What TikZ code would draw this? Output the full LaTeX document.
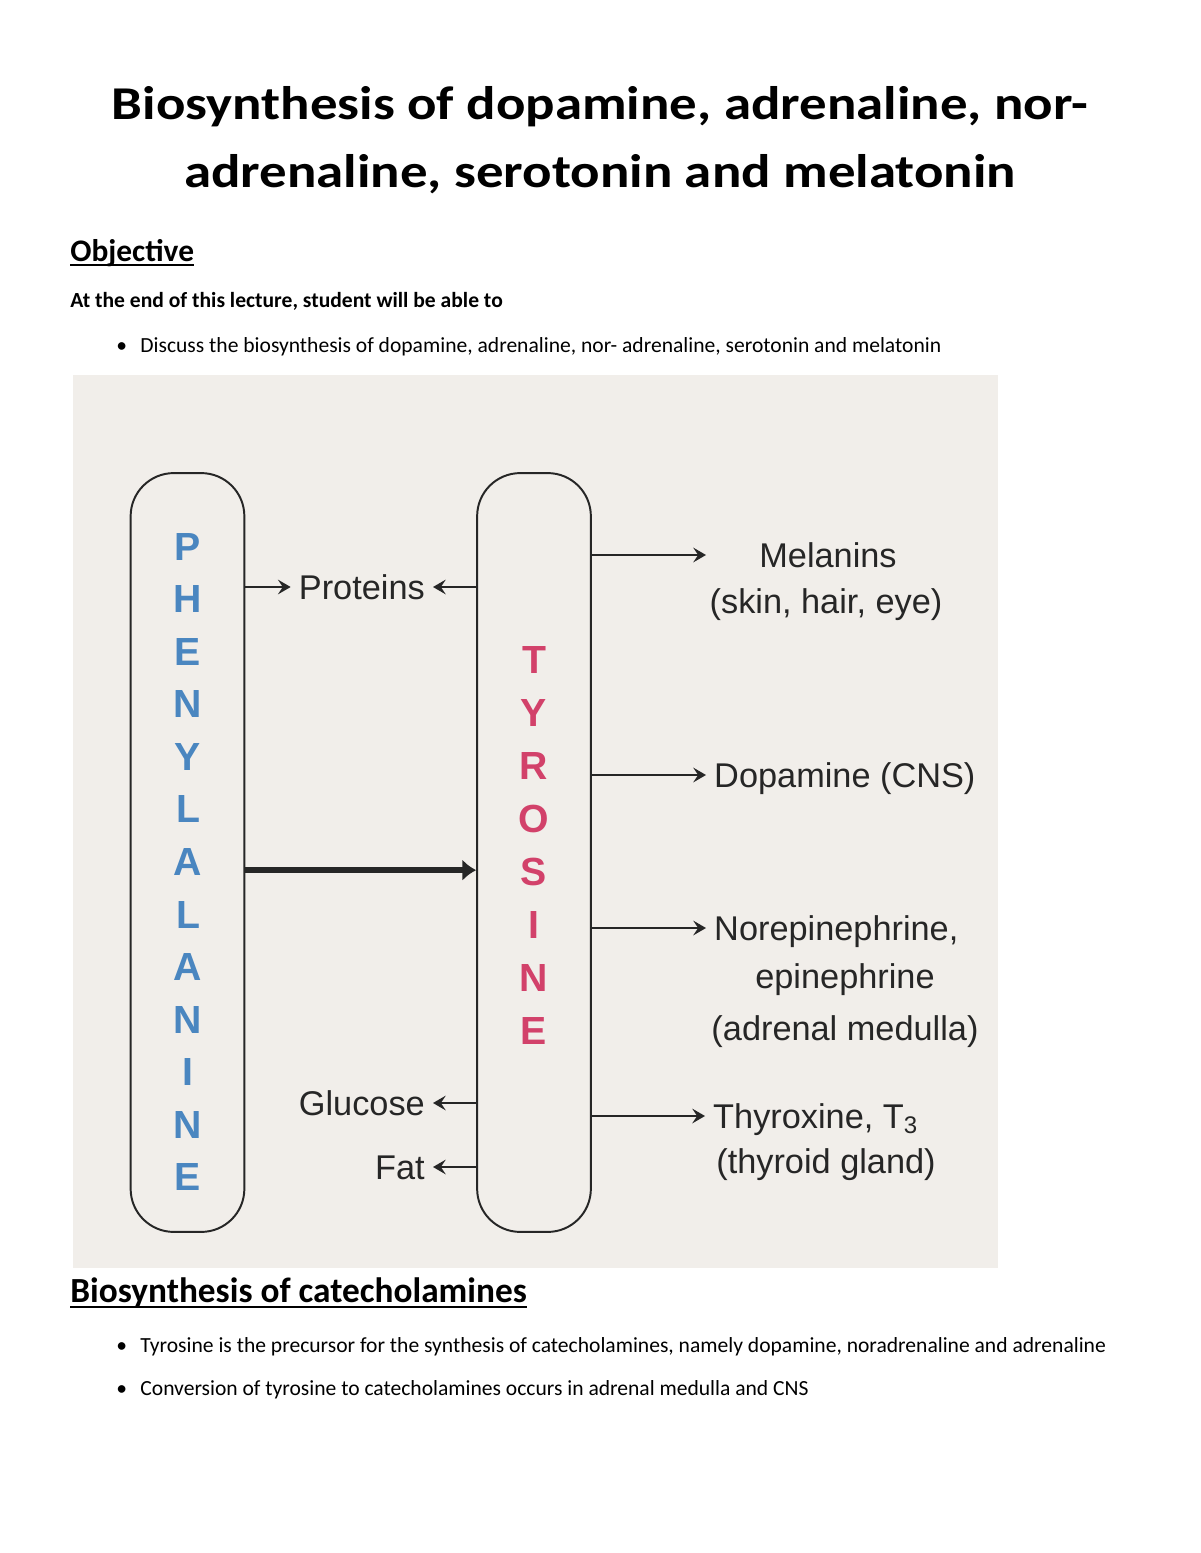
\documentclass[tikz,border=0pt]{standalone}
\usepackage{fontspec}
\setmainfont{Carlito}
\newfontfamily\titlefont[FakeStretch=1.166]{Carlito}
\newfontfamily\figfont{Liberation Sans}
\usetikzlibrary{arrows.meta,positioning}
\definecolor{photobg}{HTML}{F1EEEA}
\definecolor{pheblue}{HTML}{4A86C0}
\definecolor{tyrred}{HTML}{D2416A}
\definecolor{inkgray}{HTML}{262626}
\tikzset{
  amino box/.style={
      draw=inkgray, line width=1pt, rounded corners=22pt,
      minimum width=58pt, minimum height=387pt, inner sep=0pt
    },
  amino letters/.style={
      font=\figfont\bfseries\fontsize{20}{26.8}\selectfont,
      align=center, inner sep=0pt
    },
  fig label/.style={
      font=\figfont\fontsize{17.5}{21}\selectfont, text=inkgray,
      inner sep=4pt, text height=12.5pt, text depth=0pt
    },
  thin arrow/.style={
      draw=inkgray, line width=1.1pt,
      -{Stealth[length=6.5pt,width=7.5pt,inset=2.5pt]}
    },
  main arrow/.style={
      draw=inkgray, line width=3.4pt,
      -{Latex[length=7pt,width=11pt]}
    },
  title line/.style={inner sep=0pt, anchor=base, font=\titlefont\bfseries\fontsize{24}{29}\selectfont},
  page text/.style={inner sep=0pt, anchor=base west, font=\fontsize{11}{13}\selectfont},
  heading/.style={inner sep=0pt, anchor=base west, font=\bfseries\fontsize{16}{19}\selectfont},
  heading rule/.style={line width=1pt}
}

\begin{document}
\begin{tikzpicture}[x=0.51pt, y=-0.51pt]
  \useasboundingbox (0,0) rectangle (1200,1553);

  % ------------------------------------------------------------------
  % Page heading and objective.
  % ------------------------------------------------------------------
  \node[title line] (title1) at (600,120) {Biosynthesis of dopamine, adrenaline, nor-};
  \node[title line] (title2) at (600,188) {adrenaline, serotonin and melatonin};

  \node[heading] (objective) at (70,261) {Objective};
  \draw[heading rule] ([yshift=-2.2pt]objective.base west) -- ([yshift=-2.2pt]objective.base east);

  \node[page text, font=\bfseries\fontsize{11}{13}\selectfont] (intro) at (70,307)
  {At the end of this lecture, student will be able to};
  \node[page text] (dot1) at (116,352) {\textbullet};
  \node[page text] (aim) at (140,352)
  {Discuss the biosynthesis of dopamine, adrenaline, nor- adrenaline, serotonin and melatonin};

  % ------------------------------------------------------------------
  % Scanned figure: phenylalanine and tyrosine.
  % ------------------------------------------------------------------
  \fill[photobg] (73,375) rectangle (998,1268);

  \node[amino box] (phe) at (187.5,852.5) {};
  \node[amino box] (tyr) at (534,852.5) {};

  \node[amino letters, text=pheblue] (pheword) at (188,862)
  {P\\H\\E\\N\\Y\\L\\A\\L\\A\\N\\I\\N\\E};
  \node[amino letters, text=tyrred, font=\figfont\bfseries\fontsize{20}{27}\selectfont]
  (tyrword) at (534,845.5) {T\\Y\\R\\O\\S\\I\\N\\E};

  \draw[main arrow] ([yshift=-9pt]phe.east) -- ([yshift=-9pt]tyr.west);

  % products between the two columns
  \node[fig label, anchor=east] (prot) at (433,587) {Proteins};
  \node[fig label, anchor=east] (glc) at (433,1103) {Glucose};
  \node[fig label, anchor=east] (fat) at (433,1167) {Fat};

  \draw[thin arrow] (phe.east |- prot.west) -- (prot.west);
  \draw[thin arrow] (tyr.west |- prot.east) -- (prot.east);
  \draw[thin arrow] (tyr.west |- glc.east) -- (glc.east);
  \draw[thin arrow] (tyr.west |- fat.east) -- (fat.east);

  % products of tyrosine
  \node[fig label, anchor=west] (dopa) at (706,775) {Dopamine (CNS)};
  \node[fig label] (mel) at (828,555) {Melanins};
  \node[fig label] (melsite) at (826,601) {(skin, hair, eye)};
  \node[fig label, anchor=west] (norepi) at (706,928) {Norepinephrine,};
  \node[fig label] (epi) at (845,976) {epinephrine};
  \node[fig label] (episite) at (845,1028) {(adrenal medulla)};
  \node[fig label, anchor=west] (thyr) at (705,1116) {Thyroxine, T\textsubscript{3}};
  \node[fig label] (thyrsite) at (826,1161) {(thyroid gland)};

  \draw[thin arrow] (tyr.east |- mel) -- (dopa.west |- mel);
  \draw[thin arrow] (tyr.east |- dopa.west) -- (dopa.west);
  \draw[thin arrow] (tyr.east |- norepi.west) -- (norepi.west);
  \draw[thin arrow] (tyr.east |- thyr.west) -- (thyr.west);

  % ------------------------------------------------------------------
  % Catecholamine section.
  % ------------------------------------------------------------------
  \node[heading, font=\bfseries\fontsize{18}{21}\selectfont] (catechol) at (70,1302)
  {Biosynthesis of catecholamines};
  \draw[heading rule] ([yshift=-2.4pt]catechol.base west) -- ([yshift=-2.4pt]catechol.base east);

  \node[page text] (dot2) at (116,1352) {\textbullet};
  \node[page text] (precursor) at (140,1352)
  {Tyrosine is the precursor for the synthesis of catecholamines, namely dopamine, noradrenaline and adrenaline};
  \node[page text] (dot3) at (116,1395) {\textbullet};
  \node[page text] (site) at (140,1395)
  {Conversion of tyrosine to catecholamines occurs in adrenal medulla and CNS};

\end{tikzpicture}
\end{document}
